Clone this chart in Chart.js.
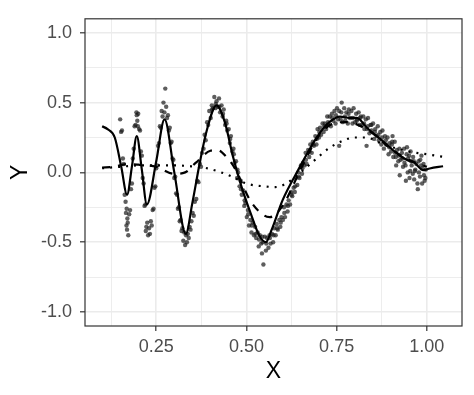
<!DOCTYPE html>
<html>
<head>
<meta charset="utf-8">
<script src="https://cdn.jsdelivr.net/npm/chart.js@4"></script>
<style>
  html, body { margin: 0; padding: 0; background: #fff; }
  #chart { display: block; }
</style>
</head>
<body>
<canvas id="chart" width="474" height="395"></canvas>
<script>
// observed points
const ptX = [
  0.150,0.1525,0.155,0.1575,0.160,0.1625,0.165,0.1675,0.170,0.1725,
  0.175,0.1775,0.180,0.1825,0.185,0.1875,0.190,0.1925,0.195,0.1975,
  0.200,0.2025,0.205,0.2075,0.210,0.2125,0.215,0.2175,0.220,0.2225,
  0.225,0.2275,0.230,0.2325,0.235,0.2375,0.240,0.2425,0.245,0.2475,
  0.250,0.2525,0.255,0.2575,0.260,0.2625,0.265,0.2675,0.270,0.2725,
  0.275,0.2775,0.280,0.2825,0.285,0.2875,0.290,0.2925,0.295,0.2975,
  0.300,0.3025,0.305,0.3075,0.310,0.3125,0.315,0.3175,0.320,0.3225,
  0.325,0.3275,0.330,0.3325,0.335,0.3375,0.340,0.3425,0.345,0.3475,
  0.351,0.354,0.357, 0.361,0.364,0.367, 0.371,0.374,0.377, 0.381,0.384,0.387, 0.391,0.394,0.397,
  0.401,0.404,0.407, 0.411,0.414,0.417, 0.421,0.424,0.427, 0.431,0.434,0.437, 0.441,0.444,0.447,
  0.451,0.454,0.457, 0.461,0.464,0.467, 0.471,0.474,0.477, 0.481,0.484,0.487, 0.491,0.494,0.497,
  0.501,0.504,0.507, 0.511,0.514,0.517, 0.521,0.524,0.527, 0.531,0.534,0.537, 0.541,0.544,0.547,
  0.551,0.554,0.557, 0.561,0.564,0.567, 0.571,0.574,0.577, 0.581,0.584,0.587, 0.591,0.594,0.597,
  0.601,0.604,0.607, 0.611,0.614,0.617, 0.621,0.624,0.627, 0.631,0.634,0.637, 0.641,0.644,0.647,
  0.651,0.654,0.657, 0.661,0.664,0.667, 0.671,0.674,0.677, 0.681,0.684,0.687, 0.691,0.694,0.697,
  0.701,0.704,0.707, 0.711,0.714,0.717, 0.721,0.724,0.727, 0.731,0.734,0.737, 0.741,0.744,0.747,
  0.751,0.754,0.757, 0.761,0.764,0.767, 0.771,0.774,0.777, 0.781,0.784,0.787, 0.791,0.794,0.797,
  0.801,0.804,0.807, 0.811,0.814,0.817, 0.821,0.824,0.827, 0.831,0.834,0.837, 0.841,0.844,0.847,
  0.851,0.854,0.857, 0.861,0.864,0.867, 0.871,0.874,0.877, 0.881,0.884,0.887, 0.891,0.894,0.897,
  0.901,0.904,0.907, 0.911,0.914,0.917, 0.921,0.924,0.927, 0.931,0.934,0.937, 0.941,0.944,0.947,
  0.951,0.954,0.957, 0.961,0.964,0.967, 0.971,0.974,0.977, 0.981,0.984,0.987, 0.991,0.994,0.997,
  0.166,0.168,0.169,0.171,0.196,0.199,0.221,0.757,0.833,0.543,
  0.975,0.985,0.945,0.925,0.905,0.915,0.955,0.965,0.992,
  0.702,0.716,0.726,0.738,0.748,0.763,0.773,0.783,0.795,0.806,
  0.815,0.826,0.836,0.846,0.856,0.866,0.876,0.886,0.896,0.903,
  0.912,0.922,0.932,0.938,0.948,0.958,0.968,0.978,0.988,0.996,
  0.952,0.962,0.982,0.942,
  0.405,0.415,0.425,0.435,0.445,0.455,0.465,0.475,0.485,0.495,
  0.505,0.515,0.525,0.535,0.545,0.555,0.565,0.575,0.585,0.595,
  0.605,0.615,0.625,0.635,0.645,0.655,0.665,0.675,0.685,0.695
];
const ptY = [
  0.38,0.29,0.30,0.10,0.06,-0.16,-0.21,-0.38,-0.33,-0.45,
  -0.30,-0.27,-0.12,-0.08,0.10,0.17,0.33,0.34,0.43,0.37,
  0.42,0.31,0.30,0.15,0.12,-0.04,-0.08,-0.24,-0.23,-0.39,
  -0.36,-0.45,-0.40,-0.44,-0.35,-0.38,-0.27,-0.26,-0.11,-0.10,
  0.03,0.05,0.19,0.21,0.33,0.32,0.44,0.40,0.50,0.43,
  0.60,0.47,0.39,0.41,0.30,0.32,0.21,0.22,0.10,0.09,
  -0.04,-0.03,-0.15,-0.16,-0.26,-0.25,-0.35,-0.34,-0.42,-0.40,
  -0.49,-0.43,-0.52,-0.45,-0.50,-0.44,-0.47,-0.39,-0.41,-0.35,
  -0.29,-0.31,-0.21, -0.19,-0.06,-0.07, 0.06,0.04,0.14, 0.17,0.27,0.23, 0.36,0.34,0.44,
  0.39,0.48,0.46, 0.54,0.46,0.51, 0.47,0.53,0.43, 0.48,0.40,0.45, 0.34,0.37,0.30,
  0.31,0.21,0.26, 0.15,0.17,0.07, 0.08,-0.04,0.00, -0.10,-0.06,-0.16, -0.13,-0.24,-0.22,
  -0.32,-0.27,-0.38, -0.34,-0.43,-0.36, -0.45,-0.39,-0.47, -0.43,-0.53,-0.45, -0.51,-0.46,-0.66,
  -0.46,-0.56,-0.47, -0.54,-0.45,-0.51, -0.44,-0.50,-0.40, -0.45,-0.37,-0.41, -0.34,-0.39,-0.32,
  -0.34,-0.25,-0.32, -0.23,-0.28,-0.20, -0.23,-0.14,-0.17, -0.11,-0.14,-0.04, -0.09,0.00,-0.04,
  0.05,-0.01,0.07, 0.05,0.14,0.06, 0.16,0.11,0.20, 0.14,0.22,0.19, 0.26,0.20,0.31,
  0.25,0.32,0.27, 0.35,0.29,0.35, 0.31,0.40,0.34, 0.40,0.33,0.42, 0.37,0.44,0.35,
  0.46,0.38,0.44, 0.38,0.50,0.36, 0.46,0.37,0.43, 0.35,0.45,0.39, 0.44,0.35,0.46,
  0.36,0.42,0.38, 0.43,0.34,0.40, 0.34,0.40,0.31, 0.38,0.31,0.39, 0.28,0.34,0.30,
  0.35,0.24,0.31, 0.26,0.33,0.23, 0.29,0.20,0.30, 0.17,0.26,0.20, 0.25,0.13,0.21,
  0.15,0.22,0.11, 0.22,0.11,0.16, 0.08,0.17,0.09, 0.14,0.04,0.17, 0.05,0.13,0.00,
  0.12,0.01,0.08, -0.01,0.08,0.01, 0.06,-0.08,0.08, -0.03,0.05,-0.08, 0.06,-0.06,0.02,
  -0.29,-0.26,-0.41,-0.36,0.41,0.33,-0.42,0.19,0.19,-0.58,
  -0.12,0.12,0.18,-0.02,0.26,0.05,0.15,-0.05,-0.02,
  0.29,0.33,0.36,0.39,0.41,0.43,0.40,0.42,0.39,0.37,
  0.39,0.35,0.33,0.34,0.29,0.27,0.25,0.23,0.18,0.20,
  0.14,0.12,0.10,0.07,0.10,0.05,0.02,0.00,0.03,-0.04,
  -0.04,0.11,0.09,-0.06,
  0.45,0.49,0.47,0.42,0.35,0.24,0.13,0.02,-0.12,-0.20,
  -0.30,-0.38,-0.44,-0.48,-0.50,-0.51,-0.47,-0.45,-0.40,-0.36,
  -0.29,-0.24,-0.16,-0.10,-0.03,0.03,0.09,0.15,0.20,0.24
];

// fitted curves
const solidX = [0.10,0.115,0.135,0.153,0.169,0.183,0.196,0.21,0.224,0.25,0.273,0.30,0.332,0.35,0.37,0.39,0.417,0.44,0.463,0.486,
  0.514,0.535,0.554,0.57,0.60,0.644,0.70,0.73,0.76,0.785,0.806,0.834,0.884,0.92,0.948,0.966,0.99,1.008,1.045];
const solidY = [0.33,0.31,0.25,0.04,-0.16,0.05,0.26,0.02,-0.23,0.08,0.38,0.00,-0.44,-0.22,0.06,0.30,0.48,0.36,0.11,-0.10,
  -0.31,-0.45,-0.50,-0.41,-0.20,0.02,0.27,0.36,0.40,0.39,0.39,0.32,0.21,0.13,0.085,0.068,0.016,0.028,0.044];

const dashX = [0.10,0.13,0.17,0.20,0.25,0.30,0.33,0.36,0.40,0.42,0.445,0.47,0.51,0.55,0.565,0.60,0.65,0.70,0.74,0.775,0.80,0.85,0.90,0.95,1.00];
const dashY = [0.035,0.04,0.06,0.055,0.04,-0.01,0.00,0.07,0.155,0.16,0.11,0.02,-0.20,-0.31,-0.32,-0.24,0.02,0.26,0.35,0.36,0.35,0.28,0.17,0.09,0.04];

const dotX = [0.10,0.15,0.20,0.25,0.30,0.34,0.39,0.43,0.46,0.50,0.55,0.58,0.61,0.65,0.69,0.73,0.77,0.80,0.83,0.88,0.95,1.00,1.05];
const dotY = [0.03,0.04,0.05,0.05,0.05,0.045,0.03,0.00,-0.03,-0.08,-0.10,-0.105,-0.08,0.00,0.09,0.175,0.23,0.25,0.25,0.20,0.15,0.13,0.11];

// axis ticks
const xTicks = [0.125, 0.25, 0.375, 0.5, 0.625, 0.75, 0.875, 1.0];
const xMajor = [0.25, 0.5, 0.75, 1.0];
const yTicks = [-1, -0.75, -0.5, -0.25, 0, 0.25, 0.5, 0.75, 1];
const yMajor = [-1, -0.5, 0, 0.5, 1];

const isMajor = (v, list) => list.some(m => Math.abs(m - v) < 1e-9);
const toXY = (xs, ys) => xs.map((x, i) => ({x: x, y: ys[i]}));

const panelBorder = {
  id: 'panelBorder',
  beforeDraw(chart) {
    const c = chart.ctx;
    c.save();
    c.fillStyle = '#ffffff';
    c.fillRect(0, 0, chart.width, chart.height);
    c.restore();
  },
  afterDatasetsDraw(chart) {
    const a = chart.chartArea;
    const c = chart.ctx;
    c.save();
    c.strokeStyle = '#333333';
    c.lineWidth = 1.2;
    c.strokeRect(a.left, a.top, a.right - a.left, a.bottom - a.top);
    c.restore();
  }
};

const font = 'Liberation Sans, Arial, sans-serif';

function axis(ticks, major, min, max, digits, title, isX) {
  return {
    type: 'linear',
    min: min,
    max: max,
    afterBuildTicks: s => { s.ticks = ticks.map(v => ({value: v})); },
    afterFit: s => { if (isX) s.height = 69; else s.width = 85; },
    border: {display: false},
    grid: {
      color: '#EBEBEB',
      lineWidth: c => (c.tick && isMajor(c.tick.value, major)) ? 1.6 : 0.9,
      tickColor: c => (c.tick && isMajor(c.tick.value, major)) ? '#333333' : 'rgba(0,0,0,0)',
      tickLength: 5,
      tickWidth: 1.2
    },
    ticks: {
      autoSkip: false,
      maxRotation: 0,
      padding: isX ? 5 : 8,
      color: '#4D4D4D',
      font: {family: font, size: 18},
      callback: v => isMajor(v, major) ? v.toFixed(digits) : ''
    },
    title: {
      display: true,
      text: title,
      color: '#000000',
      font: {family: font, size: 23},
      padding: isX ? {top: 0, bottom: 10} : {top: 7, bottom: 0}
    }
  };
}

new Chart(document.getElementById('chart'), {
  type: 'scatter',
  data: {
    datasets: [
      {
        label: 'fit',
        data: toXY(solidX, solidY),
        showLine: true,
        borderColor: '#000000',
        borderWidth: 2.2,
        pointRadius: 0,
        cubicInterpolationMode: 'monotone',
        order: 0
      },
      {
        label: 'dashed',
        data: toXY(dashX, dashY),
        showLine: true,
        borderColor: '#000000',
        borderWidth: 2.2,
        borderDash: [8, 8],
        pointRadius: 0,
        cubicInterpolationMode: 'monotone',
        order: 1
      },
      {
        label: 'dotted',
        data: toXY(dotX, dotY),
        showLine: true,
        borderColor: '#000000',
        borderWidth: 2.2,
        borderDash: [2, 6],
        pointRadius: 0,
        cubicInterpolationMode: 'monotone',
        order: 2
      },
      {
        label: 'points',
        data: toXY(ptX, ptY),
        pointRadius: 2.2,
        pointBorderWidth: 0,
        pointBackgroundColor: 'rgba(25,25,25,0.7)',
        order: 3
      }
    ]
  },
  options: {
    responsive: false,
    animation: false,
    events: [],
    layout: {padding: {top: 11, right: 12, left: 0, bottom: 0}},
    plugins: {legend: {display: false}, tooltip: {enabled: false}},
    scales: {
      x: axis(xTicks, xMajor, 0.0525, 1.0975, 2, 'X', true),
      y: axis(yTicks, yMajor, -1.1, 1.1, 1, 'Y', false)
    }
  },
  plugins: [panelBorder]
});
</script>
</body>
</html>
